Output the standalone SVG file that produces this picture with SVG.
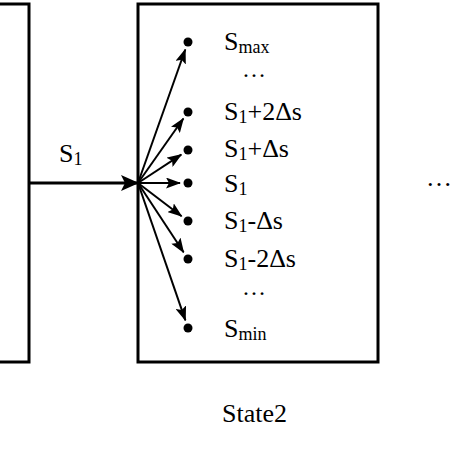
<svg xmlns="http://www.w3.org/2000/svg" width="452" height="452" viewBox="0 0 452 452">
<style>
.box{fill:#fff;stroke:#000;stroke-width:3}
.t{font-family:"Liberation Serif","DejaVu Serif",serif;font-size:26px;fill:#000}
.sub{font-size:18px}
.el{font-family:"Liberation Serif","DejaVu Serif",serif;font-size:24px;fill:#000}
.fan{stroke:#000;stroke-width:2;fill:none;marker-end:url(#ah)}
.main{stroke:#000;stroke-width:3;fill:none;marker-end:url(#ahb)}
.dot{fill:#000}
</style>
<defs>
<marker id="ah" markerUnits="userSpaceOnUse" viewBox="0 0 15 11" refX="14" refY="5.5" markerWidth="15" markerHeight="11" orient="auto">
<path d="M0,0 L15,5.5 L0,11 L3,5.5 Z" fill="#000"/>
</marker>
<marker id="ahb" markerUnits="userSpaceOnUse" viewBox="0 0 18 16" refX="17" refY="8" markerWidth="18" markerHeight="16" orient="auto">
<path d="M0,0 L18,8 L0,16 L4,8 Z" fill="#000"/>
</marker>
</defs>
<g id="state1">
<rect class="box" x="-20" y="4" width="49" height="358"/>
</g>
<g id="state2">
<rect class="box" x="138" y="4" width="240" height="358"/>
<circle class="dot" cx="188" cy="42" r="4.5"/>
<circle class="dot" cx="188" cy="112" r="4.5"/>
<circle class="dot" cx="188" cy="150" r="4.5"/>
<circle class="dot" cx="188" cy="183" r="4.5"/>
<circle class="dot" cx="188" cy="221" r="4.5"/>
<circle class="dot" cx="188" cy="259" r="4.5"/>
<circle class="dot" cx="188" cy="328" r="4.5"/>
<text class="t" x="224" y="50">S<tspan class="sub" dy="3">max</tspan></text>
<text class="el" x="242" y="77">…</text>
<text class="t" x="224" y="120">S<tspan class="sub" dy="3">1</tspan><tspan dy="-3">+2Δs</tspan></text>
<text class="t" x="224" y="157">S<tspan class="sub" dy="3">1</tspan><tspan dy="-3">+Δs</tspan></text>
<text class="t" x="224" y="192">S<tspan class="sub" dy="3">1</tspan></text>
<text class="t" x="224" y="229">S<tspan class="sub" dy="3">1</tspan><tspan dy="-3">-Δs</tspan></text>
<text class="t" x="224" y="267">S<tspan class="sub" dy="3">1</tspan><tspan dy="-3">-2Δs</tspan></text>
<text class="el" x="242" y="295">…</text>
<text class="t" x="224" y="337">S<tspan class="sub" dy="3">min</tspan></text>
<text class="t" x="222" y="422">State2</text>
</g>
<g id="more">
<text class="t" x="426" y="186">…</text>
</g>
<g id="connectors">
<path class="main" d="M29,183 L138,183"/>
<text class="t" x="59" y="162">S<tspan class="sub" dy="3">1</tspan></text>
<path class="fan" d="M138,183 L185.3,49.5"/>
<path class="fan" d="M138,183 L183.4,118.5"/>
<path class="fan" d="M138,183 L181.3,154.6"/>
<path class="fan" d="M138,183 L180,183"/>
<path class="fan" d="M138,183 L181.6,216.2"/>
<path class="fan" d="M138,183 L183.6,252.3"/>
<path class="fan" d="M138,183 L185.4,320.4"/>
</g>
</svg>
